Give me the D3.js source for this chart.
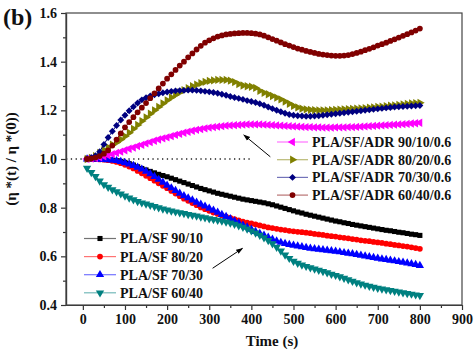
<!DOCTYPE html>
<html>
<head>
<meta charset="utf-8">
<script src="https://cdn.jsdelivr.net/npm/d3@7"></script>
<style>
  body { margin: 0; background: #fff; }
  svg { display: block; font-family: "Liberation Serif", "Times New Roman", serif; font-weight: bold; }
  .axis path, .axis line { stroke: #333; stroke-width: 1.2; }
  .axis text { font-family: "Liberation Serif", "Times New Roman", serif; font-weight: bold; font-size: 14px; fill: #111; }
  .legend-text { font-size: 14px; fill: #111; }
</style>
</head>
<body>
<div id="chart"></div>
<script>
const width = 474, height = 353;
const margin = { top: 13, right: 12, bottom: 48, left: 66 };
const innerWidth = width - margin.left - margin.right;
const innerHeight = height - margin.top - margin.bottom;

// time grid (s), one sample every 10 s
const times = d3.range(10, 801, 10);

const xTicks = [0, 100, 200, 300, 400, 500, 600, 700, 800, 900];
const xMinorTicks = [50, 150, 250, 350, 450, 550, 650, 750, 850];
const yTicks = [0.4, 0.6, 0.8, 1.0, 1.2, 1.4, 1.6];
const yMinorTicks = [0.5, 0.7, 0.9, 1.1, 1.3, 1.5];

// normalised complex viscosity
const sf9010 = [1.000,1.000,1.000,0.999,0.998,0.997,0.995,0.993,0.990,0.986,
0.981,0.975,0.968,0.961,0.955,0.949,0.943,0.937,0.932,0.927,
0.921,0.915,0.909,0.903,0.897,0.891,0.885,0.879,0.874,0.869,
0.864,0.859,0.855,0.851,0.847,0.843,0.839,0.835,0.832,0.829,
0.826,0.823,0.820,0.816,0.812,0.807,0.802,0.797,0.792,0.787,
0.782,0.778,0.773,0.769,0.765,0.761,0.757,0.753,0.749,0.745,
0.742,0.738,0.735,0.731,0.728,0.725,0.722,0.719,0.716,0.713,
0.710,0.707,0.705,0.702,0.699,0.697,0.694,0.691,0.689,0.686];

const sf8020 = [1.000,1.000,0.999,0.998,0.997,0.995,0.992,0.988,0.983,0.976,
0.969,0.961,0.951,0.941,0.931,0.921,0.911,0.900,0.890,0.880,
0.869,0.858,0.847,0.837,0.828,0.819,0.810,0.801,0.794,0.787,
0.780,0.774,0.768,0.763,0.758,0.753,0.748,0.743,0.739,0.735,
0.731,0.727,0.723,0.719,0.716,0.713,0.710,0.708,0.705,0.703,
0.701,0.699,0.697,0.695,0.692,0.690,0.688,0.685,0.683,0.681,
0.678,0.676,0.674,0.671,0.669,0.666,0.664,0.662,0.659,0.657,
0.655,0.652,0.650,0.647,0.645,0.642,0.640,0.637,0.634,0.631];

const sf7030 = [1.000,1.000,1.000,0.999,0.998,0.997,0.995,0.993,0.989,0.984,
0.979,0.973,0.966,0.958,0.949,0.939,0.928,0.916,0.904,0.892,
0.881,0.870,0.859,0.849,0.840,0.831,0.822,0.814,0.806,0.797,
0.789,0.781,0.772,0.763,0.754,0.745,0.737,0.728,0.720,0.711,
0.702,0.694,0.686,0.678,0.670,0.663,0.657,0.652,0.648,0.645,
0.642,0.639,0.636,0.633,0.631,0.629,0.627,0.625,0.623,0.621,
0.618,0.615,0.612,0.610,0.607,0.604,0.601,0.598,0.595,0.592,
0.589,0.587,0.584,0.581,0.578,0.575,0.572,0.569,0.566,0.562];

const sf6040 = [0.962,0.945,0.928,0.910,0.895,0.884,0.874,0.866,0.857,0.848,
0.840,0.833,0.826,0.820,0.815,0.810,0.805,0.800,0.795,0.791,
0.787,0.783,0.779,0.776,0.772,0.769,0.766,0.762,0.759,0.755,
0.752,0.749,0.745,0.741,0.737,0.732,0.726,0.720,0.713,0.705,
0.696,0.687,0.677,0.665,0.652,0.638,0.622,0.606,0.592,0.580,
0.572,0.565,0.559,0.553,0.548,0.543,0.538,0.533,0.527,0.522,
0.516,0.510,0.504,0.498,0.492,0.487,0.482,0.477,0.473,0.469,
0.466,0.463,0.460,0.457,0.454,0.451,0.448,0.445,0.442,0.439];

const adr9010 = [1.000,1.002,1.004,1.007,1.011,1.015,1.020,1.025,1.030,1.036,
1.042,1.047,1.053,1.058,1.064,1.069,1.075,1.080,1.085,1.089,
1.094,1.099,1.103,1.108,1.112,1.116,1.120,1.123,1.126,1.129,
1.131,1.133,1.135,1.137,1.138,1.139,1.140,1.141,1.142,1.142,
1.142,1.142,1.141,1.140,1.139,1.138,1.137,1.136,1.135,1.134,
1.133,1.132,1.131,1.131,1.130,1.130,1.129,1.129,1.129,1.130,
1.130,1.130,1.131,1.131,1.132,1.133,1.134,1.135,1.136,1.137,
1.138,1.139,1.140,1.141,1.142,1.143,1.144,1.146,1.147,1.149];

const adr8020 = [1.000,1.004,1.012,1.025,1.037,1.048,1.059,1.068,1.080,1.093,
1.108,1.124,1.140,1.156,1.171,1.186,1.200,1.214,1.228,1.241,
1.253,1.264,1.274,1.283,1.291,1.299,1.306,1.312,1.317,1.321,
1.323,1.325,1.325,1.325,1.322,1.316,1.308,1.302,1.299,1.297,
1.292,1.280,1.272,1.266,1.259,1.252,1.245,1.236,1.227,1.218,
1.212,1.207,1.204,1.202,1.201,1.200,1.200,1.200,1.201,1.202,
1.203,1.204,1.205,1.206,1.207,1.208,1.209,1.211,1.212,1.214,
1.215,1.217,1.219,1.220,1.222,1.224,1.226,1.228,1.229,1.231];

const adr7030 = [1.000,1.005,1.013,1.030,1.060,1.088,1.114,1.138,1.160,1.180,
1.198,1.215,1.230,1.243,1.252,1.259,1.264,1.268,1.272,1.275,
1.278,1.280,1.281,1.282,1.283,1.283,1.282,1.280,1.278,1.276,
1.273,1.270,1.266,1.262,1.257,1.253,1.249,1.245,1.240,1.236,
1.232,1.227,1.221,1.214,1.207,1.200,1.194,1.188,1.183,1.180,
1.178,1.177,1.176,1.176,1.177,1.178,1.180,1.182,1.184,1.186,
1.188,1.190,1.192,1.194,1.196,1.198,1.200,1.202,1.204,1.206,
1.208,1.210,1.212,1.214,1.215,1.216,1.217,1.218,1.219,1.220];

const adr6040 = [1.000,1.002,1.006,1.012,1.022,1.035,1.055,1.080,1.105,1.130,
1.152,1.172,1.192,1.211,1.230,1.250,1.270,1.290,1.310,1.330,
1.348,1.366,1.384,1.400,1.418,1.434,1.450,1.465,1.478,1.488,
1.496,1.503,1.508,1.512,1.514,1.516,1.517,1.518,1.518,1.517,
1.515,1.512,1.507,1.500,1.493,1.486,1.479,1.472,1.466,1.460,
1.454,1.449,1.444,1.440,1.436,1.432,1.429,1.427,1.425,1.424,
1.424,1.425,1.427,1.431,1.436,1.441,1.447,1.453,1.459,1.466,
1.472,1.478,1.485,1.492,1.499,1.506,1.513,1.520,1.528,1.536];

// symbol shapes: type + rotation
const sq = { type: d3.symbolSquare, rot: 0, size: 26 };
const circ = { type: d3.symbolCircle, rot: 0, size: 26 };
const triUp = { type: d3.symbolTriangle, rot: 0, size: 30 };
const triDown = { type: d3.symbolTriangle, rot: 180, size: 30 };
const triLeft = { type: d3.symbolTriangle, rot: -90, size: 30 };
const triRight = { type: d3.symbolTriangle, rot: 90, size: 30 };
const diamond = { type: d3.symbolSquare, rot: 45, size: 24 };

const sfSeries = [
  { name: "PLA/SF 90/10", values: sf9010, color: "#000000", sym: sq },
  { name: "PLA/SF 80/20", values: sf8020, color: "#ff0000", sym: circ },
  { name: "PLA/SF 70/30", values: sf7030, color: "#0000ff", sym: triUp },
  { name: "PLA/SF 60/40", values: sf6040, color: "#008080", sym: triDown }
];
const adrSeries = [
  { name: "PLA/SF/ADR 90/10/0.6", values: adr9010, color: "#ff00ff", sym: triLeft },
  { name: "PLA/SF/ADR 80/20/0.6", values: adr8020, color: "#808000", sym: triRight },
  { name: "PLA/SF/ADR 70/30/0.6", values: adr7030, color: "#000080", sym: diamond },
  { name: "PLA/SF/ADR 60/40/0.6", values: adr6040, color: "#800000", sym: circ }
];

const svg = d3.select("#chart")
  .append("svg")
  .attr("width", width)
  .attr("height", height);

const defs = svg.append("defs");
defs.append("marker")
  .attr("id", "arrow")
  .attr("viewBox", "0 0 10 10")
  .attr("refX", 9)
  .attr("refY", 5)
  .attr("markerWidth", 7)
  .attr("markerHeight", 7)
  .attr("orient", "auto")
  .append("path")
  .attr("d", "M0,1.5 L10,5 L0,8.5 Z")
  .attr("fill", "#000");

const inner = svg.append("g")
  .attr("transform", `translate(${margin.left}, ${margin.top})`);

const xScale = d3.scaleLinear().domain([-40, 900]).range([0, innerWidth]);
const yScale = d3.scaleLinear().domain([0.4, 1.6]).range([innerHeight, 0]);

// dotted reference at 1.0
inner.append("line")
  .attr("x1", xScale(-40))
  .attr("x2", xScale(400))
  .attr("y1", yScale(1.0))
  .attr("y2", yScale(1.0))
  .attr("stroke", "#222")
  .attr("stroke-width", 1.3)
  .attr("stroke-dasharray", "1.3 3.5");

const symbolGen = d3.symbol();
const drawSeries = (s) => {
  const pts = times.map((t, i) => ({ t, v: s.values[i] }));
  const line = d3.line().x(d => xScale(d.t)).y(d => yScale(d.v));
  inner.append("path")
    .attr("d", line(pts))
    .attr("fill", "none")
    .attr("stroke", s.color)
    .attr("stroke-width", 1);
  inner.append("g")
    .selectAll("path")
    .data(pts)
    .join("path")
    .attr("d", symbolGen.type(s.sym.type).size(s.sym.size)())
    .attr("transform", d => `translate(${xScale(d.t)}, ${yScale(d.v)}) rotate(${s.sym.rot})`)
    .attr("fill", s.color);
};
sfSeries.forEach(drawSeries);
adrSeries.forEach(drawSeries);

// axes
inner.append("g")
  .attr("class", "axis")
  .attr("transform", `translate(0, ${innerHeight})`)
  .call(d3.axisBottom(xScale).tickValues(xTicks).tickSize(5).tickSizeOuter(0).tickPadding(4));
inner.append("g")
  .attr("class", "axis")
  .attr("transform", `translate(0, ${innerHeight})`)
  .call(d3.axisBottom(xScale).tickValues(xMinorTicks).tickSize(3).tickFormat("").tickSizeOuter(0));

inner.append("g")
  .attr("class", "axis")
  .call(d3.axisLeft(yScale).tickValues(yTicks).tickSize(5).tickSizeOuter(0).tickPadding(4)
    .tickFormat(d3.format(".1f")));
inner.append("g")
  .attr("class", "axis")
  .call(d3.axisLeft(yScale).tickValues(yMinorTicks).tickSize(3).tickFormat("").tickSizeOuter(0));

// frame
inner.append("rect")
  .attr("width", innerWidth)
  .attr("height", innerHeight)
  .attr("fill", "none")
  .attr("stroke", "#444")
  .attr("stroke-width", 1.2);

// arrows
inner.append("line")
  .attr("x1", xScale(445)).attr("y1", yScale(1.009))
  .attr("x2", xScale(382)).attr("y2", yScale(1.099))
  .attr("stroke", "#000").attr("stroke-width", 1)
  .attr("marker-end", "url(#arrow)");
inner.append("line")
  .attr("x1", xScale(308)).attr("y1", yScale(0.551))
  .attr("x2", xScale(379)).attr("y2", yScale(0.633))
  .attr("stroke", "#000").attr("stroke-width", 1)
  .attr("marker-end", "url(#arrow)");

// legends
const drawLegend = (series, x0, y0, step, lineLen) => {
  const g = svg.append("g").attr("transform", `translate(${x0}, ${y0})`);
  series.forEach((s, i) => {
    const row = g.append("g").attr("transform", `translate(0, ${i * step})`);
    row.append("line")
      .attr("x1", 0).attr("x2", lineLen)
      .attr("stroke", s.color)
      .attr("stroke-opacity", 0.55)
      .attr("stroke-width", 1.2);
    row.append("path")
      .attr("d", symbolGen.type(s.sym.type).size(s.sym.size)())
      .attr("transform", `translate(${lineLen / 2}, 0) rotate(${s.sym.rot})`)
      .attr("fill", s.color);
    row.append("text")
      .attr("class", "legend-text")
      .attr("x", lineLen + 4)
      .attr("dy", "0.35em")
      .text(s.name);
  });
};
drawLegend(adrSeries, 277, 142, 17.7, 31);
drawLegend(sfSeries, 84, 238.5, 18.1, 32);

// labels
svg.append("text")
  .attr("x", 272)
  .attr("y", 346)
  .attr("text-anchor", "middle")
  .attr("font-size", 15)
  .attr("fill", "#111")
  .text("Time (s)");

svg.append("text")
  .attr("transform", `translate(16, ${margin.top + yScale(1.0)}) rotate(-90)`)
  .attr("text-anchor", "middle")
  .attr("font-size", 15)
  .attr("fill", "#111")
  .text("(η *(t) / η *(0))");

svg.append("text")
  .attr("x", 3)
  .attr("y", 25)
  .attr("font-size", 24)
  .attr("fill", "#111")
  .text("(b)");
</script>
</body>
</html>
